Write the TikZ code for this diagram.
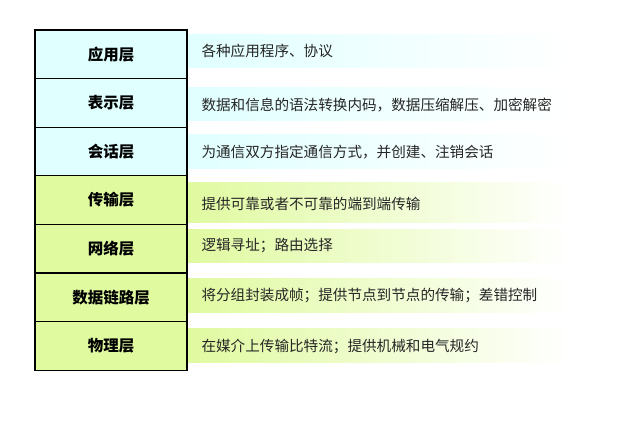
\documentclass[tikz,border=0pt]{standalone}
\usepackage{fontspec}
\setmainfont{Noto Sans CJK SC}
\begin{document}
\begin{tikzpicture}[x=1pt,y=-1pt,
  lay/.style={draw=black,line width=1.3pt,minimum width=152pt,minimum height=48.6pt,inner sep=0pt,font=\fontsize{15.5}{17}\selectfont\bfseries},
  desc/.style={anchor=west,font=\fontsize{14.6}{16}\selectfont,text=black!85}]
\definecolor{cy}{RGB}{224,255,255}
\definecolor{gr}{RGB}{224,250,160}
\useasboundingbox (0,0) rectangle (643,422);
\foreach \n/\t/\c/\ty/\ba/\bb/\k in {
 1/应用层/cy/51/35/68/各种应用程序、协议,
 2/表示层/cy/105/88/121/数据和信息的语法转换内码，数据压缩解压、加密解密,
 3/会话层/cy/152/135/169/为通信双方指定通信方式，并创建、注销会话,
 4/传输层/gr/204/183/223/提供可靠或者不可靠的端到端传输,
 5/网络层/gr/246/230/263/逻辑寻址；路由选择,
 6/数据链路层/gr/296/279/313/将分组封装成帧；提供节点到节点的传输；差错控制,
 7/物理层/gr/346/328/362/在媒介上传输比特流；提供机械和电气规约}{
  \shade[left color=\c,right color=white] (188,\ba) rectangle (570,\bb);
  \node[lay,fill=\c] (L\n) at (111,{30+24.3+48.6*(\n-1)}) {\t};
  \node[desc] (D\n) at (198,\ty) {\k};
}
\end{tikzpicture}
\end{document}
